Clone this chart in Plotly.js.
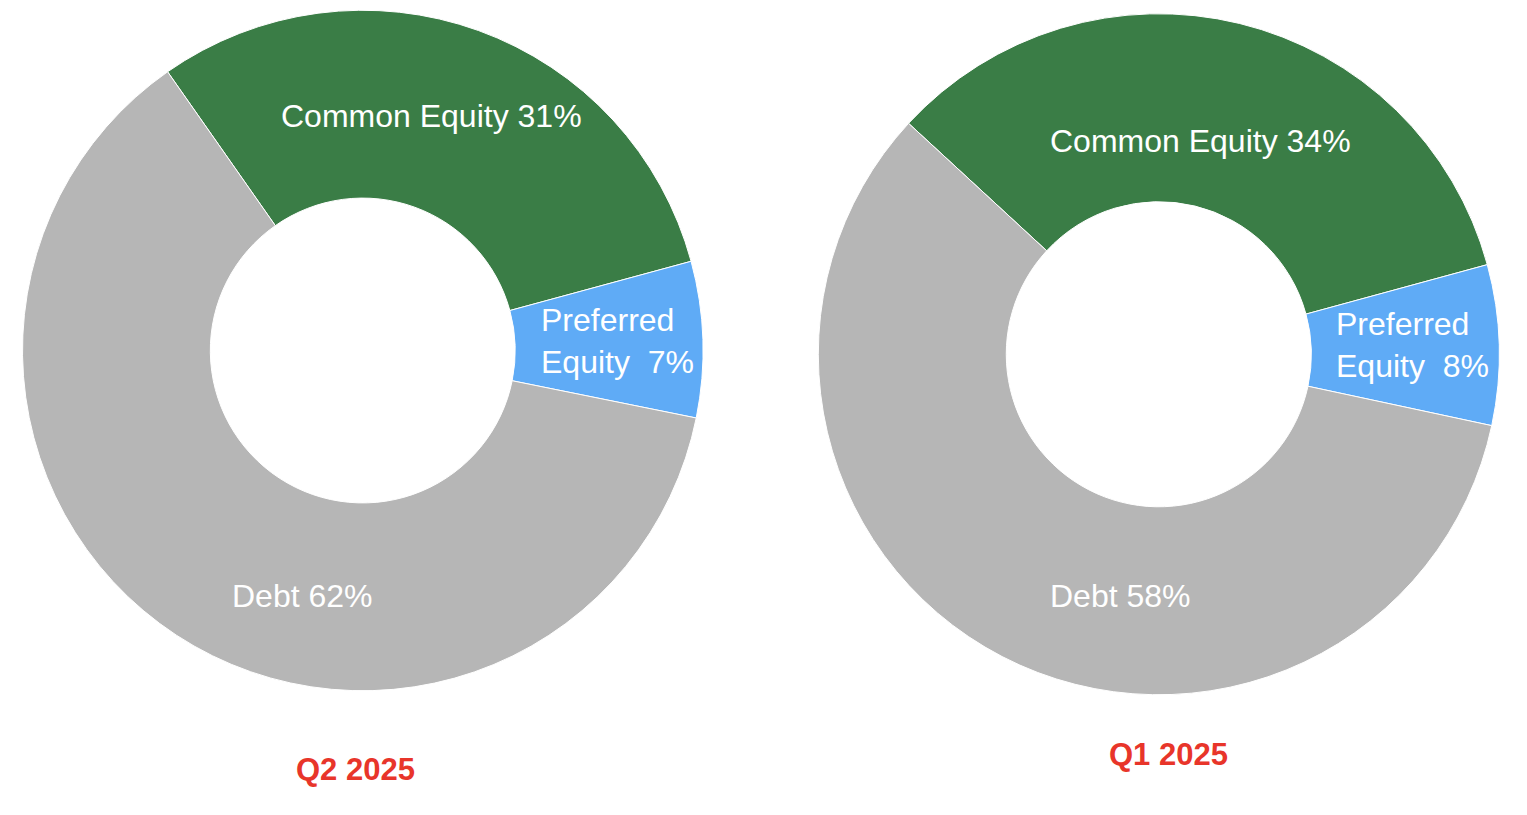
<!DOCTYPE html>
<html>
<head>
<meta charset="utf-8">
<script src="https://cdn.plot.ly/plotly-3.0.1.min.js"></script>
<style>html,body{margin:0;padding:0;background:#fff;}#chart{width:1527px;height:815px;}</style>
</head>
<body>
<div id="chart"></div>
<script>
const categories = ["Common Equity", "Preferred Equity", "Debt"];
const displayNames = ["Common Equity", "Preferred<br>Equity\u00a0", "Debt"];
const q2Values = [30.5, 7.4, 62.1];
const q1Values = [33.9, 7.6, 58.5];
const q2PctText = ["31%", "7%", "62%"];
const q1PctText = ["34%", "8%", "58%"];
const periodTitles = ["Q2 2025", "Q1 2025"];
const sliceColors = ["#3a7d46", "#5fabf6", "#b6b6b6"];

const W = 1527, H = 815;
const FONT = "Liberation Sans, Arial, Helvetica, sans-serif";

function makeText(pcts) {
  return displayNames.map((n, i) => n + " " + pcts[i]);
}

const common = {
  type: "pie",
  labels: categories,
  sort: false,
  direction: "clockwise",
  hole: 0.448,
  textinfo: "none",
  marker: {colors: sliceColors, line: {color: "#ffffff", width: 1}},
  hoverinfo: "label+percent",
  showlegend: false
};

const traces = [
  Object.assign({}, common, {
    values: q2Values,
    rotation: -35,
    domain: {x: [22.5 / W, 703 / W], y: [(H - 691) / H, (H - 10) / H]}
  }),
  Object.assign({}, common, {
    values: q1Values,
    rotation: -47.3,
    domain: {x: [818.3 / W, 1499.3 / W], y: [(H - 695) / H, (H - 13.5) / H]}
  })
];

// label placement (pixel positions in the page) per chart: [x, y, xanchor]
const labelPlacement = [
  [[431, 116, "center"], [539, 340.5, "left"], [229.5, 596, "left"]],
  [[1200.8, 141.2, "center"], [1334, 344.5, "left"], [1048, 596.3, "left"]]
];
const texts = [makeText(q2PctText), makeText(q1PctText)];

const annotations = [];
texts.forEach((arr, c) => {
  arr.forEach((t, i) => {
    const p = labelPlacement[c][i];
    annotations.push({
      text: t, x: p[0] / W, y: 1 - p[1] / H, xref: "paper", yref: "paper",
      showarrow: false, xanchor: p[2], yanchor: "middle", align: "left",
      font: {family: FONT, size: 32, color: "#ffffff"}
    });
  });
});

const titlePlacement = [[355.8, 769.3], [1168.8, 754.7]];
periodTitles.forEach((t, i) => {
  annotations.push({
    text: "<b>" + t + "</b>", x: titlePlacement[i][0] / W, y: 1 - titlePlacement[i][1] / H,
    xref: "paper", yref: "paper", showarrow: false, xanchor: "center", yanchor: "middle",
    font: {family: FONT, size: 31, color: "#e8352a"}
  });
});

const layout = {
  width: W,
  height: H,
  margin: {l: 0, r: 0, t: 0, b: 0},
  paper_bgcolor: "#ffffff",
  showlegend: false,
  annotations: annotations
};

Plotly.newPlot("chart", traces, layout, {displayModeBar: false, staticPlot: true});
</script>
</body>
</html>
